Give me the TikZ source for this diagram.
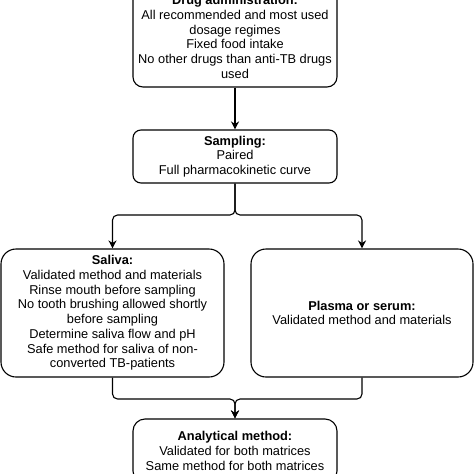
\documentclass[tikz,border=0pt]{standalone}
\usepackage{fontspec}
\setmainfont{Liberation Sans}
\usetikzlibrary{arrows.meta,positioning}

\tikzset{
  stagebox/.style={draw, rounded corners=#1, line width=1.1pt, align=center,
    inner sep=0pt, font=\fontsize{12.8}{14.7}\selectfont},
  stagebox/.default=10pt
}

\begin{document}
\begin{tikzpicture}[x=1pt, y=-1pt, line width=1.1pt,
    >={Stealth[length=8pt,width=8pt,inset=2.5pt]}]

    \useasboundingbox (0,0) rectangle (474,474);

    \node[stagebox, minimum width=204pt, minimum height=100pt] at (235,37) (drug)
      {\textbf{Drug administration:}\\All recommended and most used\\dosage regimes\\Fixed food intake\\No other drugs than anti-TB drugs\\used};

    \node[stagebox=8pt, minimum width=204pt, minimum height=53pt] at (235,156.5) (sampling)
      {\textbf{Sampling:}\\Paired\\Full pharmacokinetic curve};

    \node[stagebox=15pt, minimum width=223pt, minimum height=128pt] at (112.5,313) (saliva)
      {\textbf{Saliva:}\\Validated method and materials\\Rinse mouth before sampling\\No tooth brushing allowed shortly\\before sampling\\Determine saliva flow and pH\\Safe method for saliva of non-\\converted TB-patients};

    \node[stagebox=15pt, minimum width=222pt, minimum height=128pt] at (362,313) (plasma)
      {\textbf{Plasma or serum:}\\Validated method and materials};

    \node[stagebox=12pt, minimum width=204pt, minimum height=64pt] at (235,451) (analytic)
      {\textbf{Analytical method:}\\Validated for both matrices\\Same method for both matrices};

    \coordinate (split) at (235,215);
    \coordinate (merge) at (235,399);

    \draw [->] (drug) -- (sampling);

    \draw [->, rounded corners=5pt] (sampling.south) -- (split) -| (saliva.north);
    \draw [->, rounded corners=5pt] (sampling.south) -- (split) -| (plasma.north);

    \draw [->, rounded corners=5pt] (saliva.south) |- (merge) -- (analytic.north);
    \draw [->, rounded corners=5pt] (plasma.south) |- (merge) -- (analytic.north);

\end{tikzpicture}
\end{document}
